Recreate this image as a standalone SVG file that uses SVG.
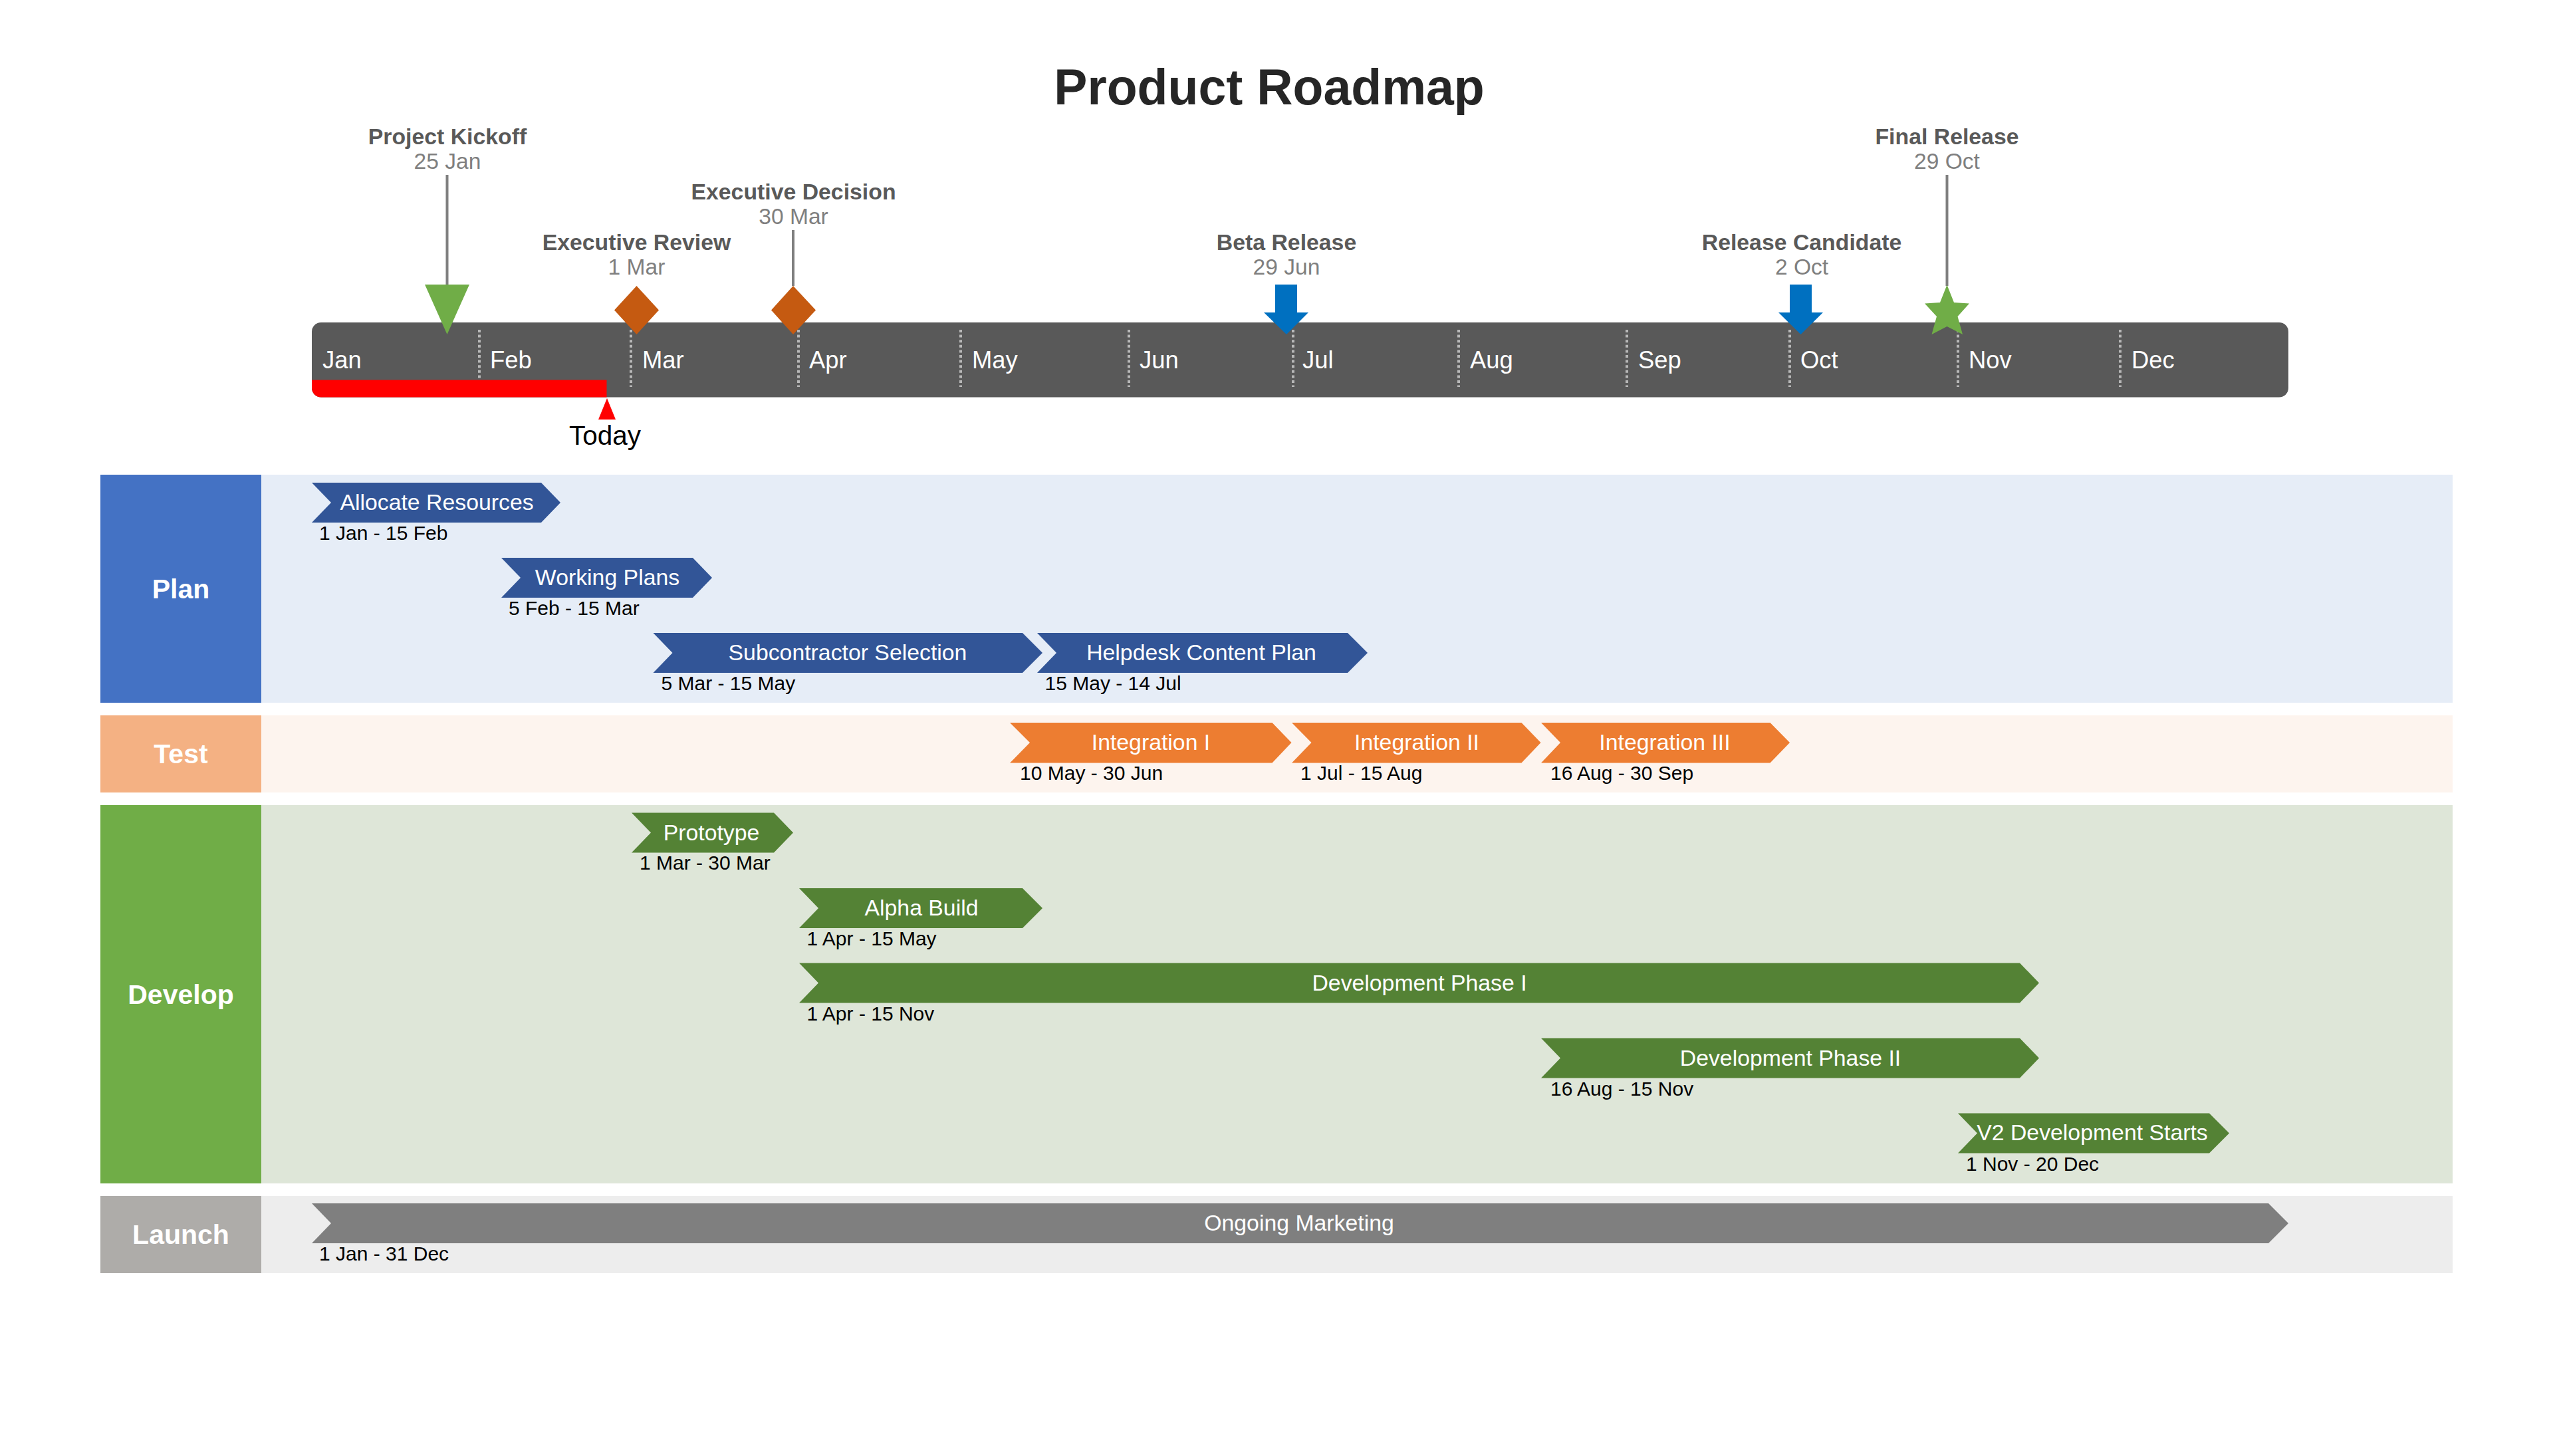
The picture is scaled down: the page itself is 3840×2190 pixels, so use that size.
<svg xmlns="http://www.w3.org/2000/svg" width="3840" height="2190" viewBox="0 0 3840 2190">
<style>
text{font-family:"Liberation Sans",Arial,sans-serif}
.title{font-size:75.2px;font-weight:700;fill:#262626;text-anchor:middle}
.ms{font-size:33.8px;font-weight:700;fill:#595959;text-anchor:middle}
.msd{font-size:33.6px;fill:#7f7f7f;text-anchor:middle}
.mon{font-size:36.4px;fill:#fff}
.lane{font-size:41px;font-weight:700;fill:#fff;text-anchor:middle}
.bar{font-size:33.8px;fill:#fff;text-anchor:middle}
.date{font-size:30px;fill:#000}
.stem{stroke:#7f7f7f;stroke-width:4;fill:none}
.tick{stroke:#b8b8b8;stroke-width:4;stroke-dasharray:4 3.6;fill:none}
.b{fill:#325597}.o{fill:#ed7d31}.g{fill:#548235}.k{fill:#7f7f7f}
</style>
<rect width="3840" height="2190" fill="#fff"/>
<text class="title" x="1909" y="157">Product Roadmap</text>

<g id="lanes">
<g id="lane-plan"><rect x="393" y="714" width="3296" height="343" fill="#e6edf7"/><rect x="151" y="714" width="242" height="343" fill="#4472c4"/><text class="lane" x="272" y="900">Plan</text></g>
<g id="lane-test"><rect x="393" y="1076" width="3296" height="116" fill="#fdf4ee"/><rect x="151" y="1076" width="242" height="116" fill="#f4b183"/><text class="lane" x="272" y="1148">Test</text></g>
<g id="lane-develop"><rect x="393" y="1211" width="3296" height="569" fill="#dee6d8"/><rect x="151" y="1211" width="242" height="569" fill="#70ad47"/><text class="lane" x="272" y="1510">Develop</text></g>
<g id="lane-launch"><rect x="393" y="1799" width="3296" height="116" fill="#ededed"/><rect x="151" y="1799" width="242" height="116" fill="#aeaca9"/><text class="lane" x="272" y="1871">Launch</text></g>
</g>

<g id="timeline">
<rect x="469" y="485" width="2973" height="112.5" rx="14" ry="14" fill="#595959"/>
<path d="M469 571.5H912.5V597.5H483A14 14 0 0 1 469 583.5Z" fill="#f00"/>
<g id="month-labels">
<text class="mon" x="485" y="554">Jan</text><text class="mon" x="737" y="554">Feb</text><text class="mon" x="966" y="554">Mar</text><text class="mon" x="1217" y="554">Apr</text><text class="mon" x="1462" y="554">May</text><text class="mon" x="1714" y="554">Jun</text><text class="mon" x="1959" y="554">Jul</text><text class="mon" x="2211" y="554">Aug</text><text class="mon" x="2464" y="554">Sep</text><text class="mon" x="2708" y="554">Oct</text><text class="mon" x="2961" y="554">Nov</text><text class="mon" x="3206" y="554">Dec</text>
</g>
</g>

<g id="connectors">
<path class="tick" d="M721 496V571M949 496V582M1201 496V582M1445 496V582M1698 496V582M1945 496V582M2194 496V582M2447 496V582M2692 496V582M2945 496V582M3189 496V582"/>
<path class="stem" d="M672.5 263V428M1193 346V430M2928.5 263V430"/>
</g>

<g id="today"><path d="M913 599L926 631H900Z" fill="#f00"/><text x="910" y="669" font-size="40.5" fill="#000" text-anchor="middle">Today</text></g>

<g id="ms-kickoff"><text class="ms" x="673" y="217">Project Kickoff</text><text class="msd" x="673" y="254">25 Jan</text><path d="M639 428H706L672.500 503Z" fill="#70ad47"/></g>
<g id="ms-review"><text class="ms" x="957.500" y="376">Executive Review</text><text class="msd" x="957.500" y="413">1 Mar</text><path d="M957.500 430L991 466.500 957.500 503 924 466.500Z" fill="#c55a11"/></g>
<g id="ms-decision"><text class="ms" x="1193.500" y="300">Executive Decision</text><text class="msd" x="1193.500" y="337">30 Mar</text><path d="M1193 430L1227 466.500 1193 503 1160 466.500Z" fill="#c55a11"/></g>
<g id="ms-beta"><text class="ms" x="1935" y="376">Beta Release</text><text class="msd" x="1935" y="413">29 Jun</text><path d="M1918 428H1951V470H1968L1935 503 1901 470H1918Z" fill="#0070c0"/></g>
<g id="ms-rc"><text class="ms" x="2710" y="376">Release Candidate</text><text class="msd" x="2710" y="413">2 Oct</text><path d="M2692 428H2725V470H2742L2708.500 503 2675 470H2692Z" fill="#0070c0"/></g>
<g id="ms-final"><text class="ms" x="2928.500" y="217">Final Release</text><text class="msd" x="2928.500" y="254">29 Oct</text><path d="M2928.500 428.500L2939 455 2962 456.500 2944.500 476 2952 503 2928.500 491 2905.500 503 2913 476 2895 456.500 2918 455Z" fill="#70ad47"/></g>

<g id="task-allocate"><path class="b" d="M469 726H814L843 756 814 786H469L498 756Z"/><text class="bar" x="657" y="767">Allocate Resources</text><text class="date" x="480" y="812">1 Jan - 15 Feb</text></g>
<g id="task-working"><path class="b" d="M754 839H1042L1071 869 1042 899H754L783 869Z"/><text class="bar" x="913.500" y="880">Working Plans</text><text class="date" x="765" y="925">5 Feb - 15 Mar</text></g>
<g id="task-subcontractor"><path class="b" d="M982.500 952H1538L1568 982 1538 1012H982.500L1011.500 982Z"/><text class="bar" x="1275" y="993">Subcontractor Selection</text><text class="date" x="994.500" y="1037.500">5 Mar - 15 May</text></g>
<g id="task-helpdesk"><path class="b" d="M1560 952H2027L2057 982 2027 1012H1560L1589 982Z"/><text class="bar" x="1807" y="993">Helpdesk Content Plan</text><text class="date" x="1571.500" y="1037.500">15 May - 14 Jul</text></g>
<g id="task-int1"><path class="o" d="M1519 1087H1913.500L1942.500 1117 1913.500 1147.500H1519L1549 1117Z"/><text class="bar" x="1731" y="1128">Integration I</text><text class="date" x="1534" y="1172.500">10 May - 30 Jun</text></g>
<g id="task-int2"><path class="o" d="M1943 1087H2288.500L2317.500 1117 2288.500 1147.500H1943L1972.500 1117Z"/><text class="bar" x="2131" y="1128">Integration II</text><text class="date" x="1956" y="1172.500">1 Jul - 15 Aug</text></g>
<g id="task-int3"><path class="o" d="M2318 1087H2662.500L2692 1117 2662.500 1147.500H2318L2347 1117Z"/><text class="bar" x="2504" y="1128">Integration III</text><text class="date" x="2332" y="1172.500">16 Aug - 30 Sep</text></g>
<g id="task-prototype"><path class="g" d="M950 1222.500H1164L1193 1252.500 1164 1282.500H950L979 1252.500Z"/><text class="bar" x="1070" y="1263.500">Prototype</text><text class="date" x="962" y="1308">1 Mar - 30 Mar</text></g>
<g id="task-alpha"><path class="g" d="M1202 1336H1538L1568 1366 1538 1396H1202L1231 1366Z"/><text class="bar" x="1386" y="1377">Alpha Build</text><text class="date" x="1213.500" y="1421.500">1 Apr - 15 May</text></g>
<g id="task-dev1"><path class="g" d="M1202 1448.500H3038L3067 1478.500 3038 1508.500H1202L1231 1478.500Z"/><text class="bar" x="2135" y="1490">Development Phase I</text><text class="date" x="1213.500" y="1534.500">1 Apr - 15 Nov</text></g>
<g id="task-dev2"><path class="g" d="M2318 1561.500H3038L3067 1591.500 3038 1621.500H2318L2347 1591.500Z"/><text class="bar" x="2693" y="1603">Development Phase II</text><text class="date" x="2332" y="1647.500">16 Aug - 15 Nov</text></g>
<g id="task-v2"><path class="g" d="M2945 1674.500H3323L3353 1704.500 3323 1734.500H2945L2974 1704.500Z"/><text class="bar" x="3147" y="1715">V2 Development Starts</text><text class="date" x="2957" y="1760.500">1 Nov - 20 Dec</text></g>
<g id="task-marketing"><path class="k" d="M469 1810H3412L3442 1840 3412 1870H469L498 1840Z"/><text class="bar" x="1954" y="1851">Ongoing Marketing</text><text class="date" x="480" y="1895.500">1 Jan - 31 Dec</text></g>
</svg>
